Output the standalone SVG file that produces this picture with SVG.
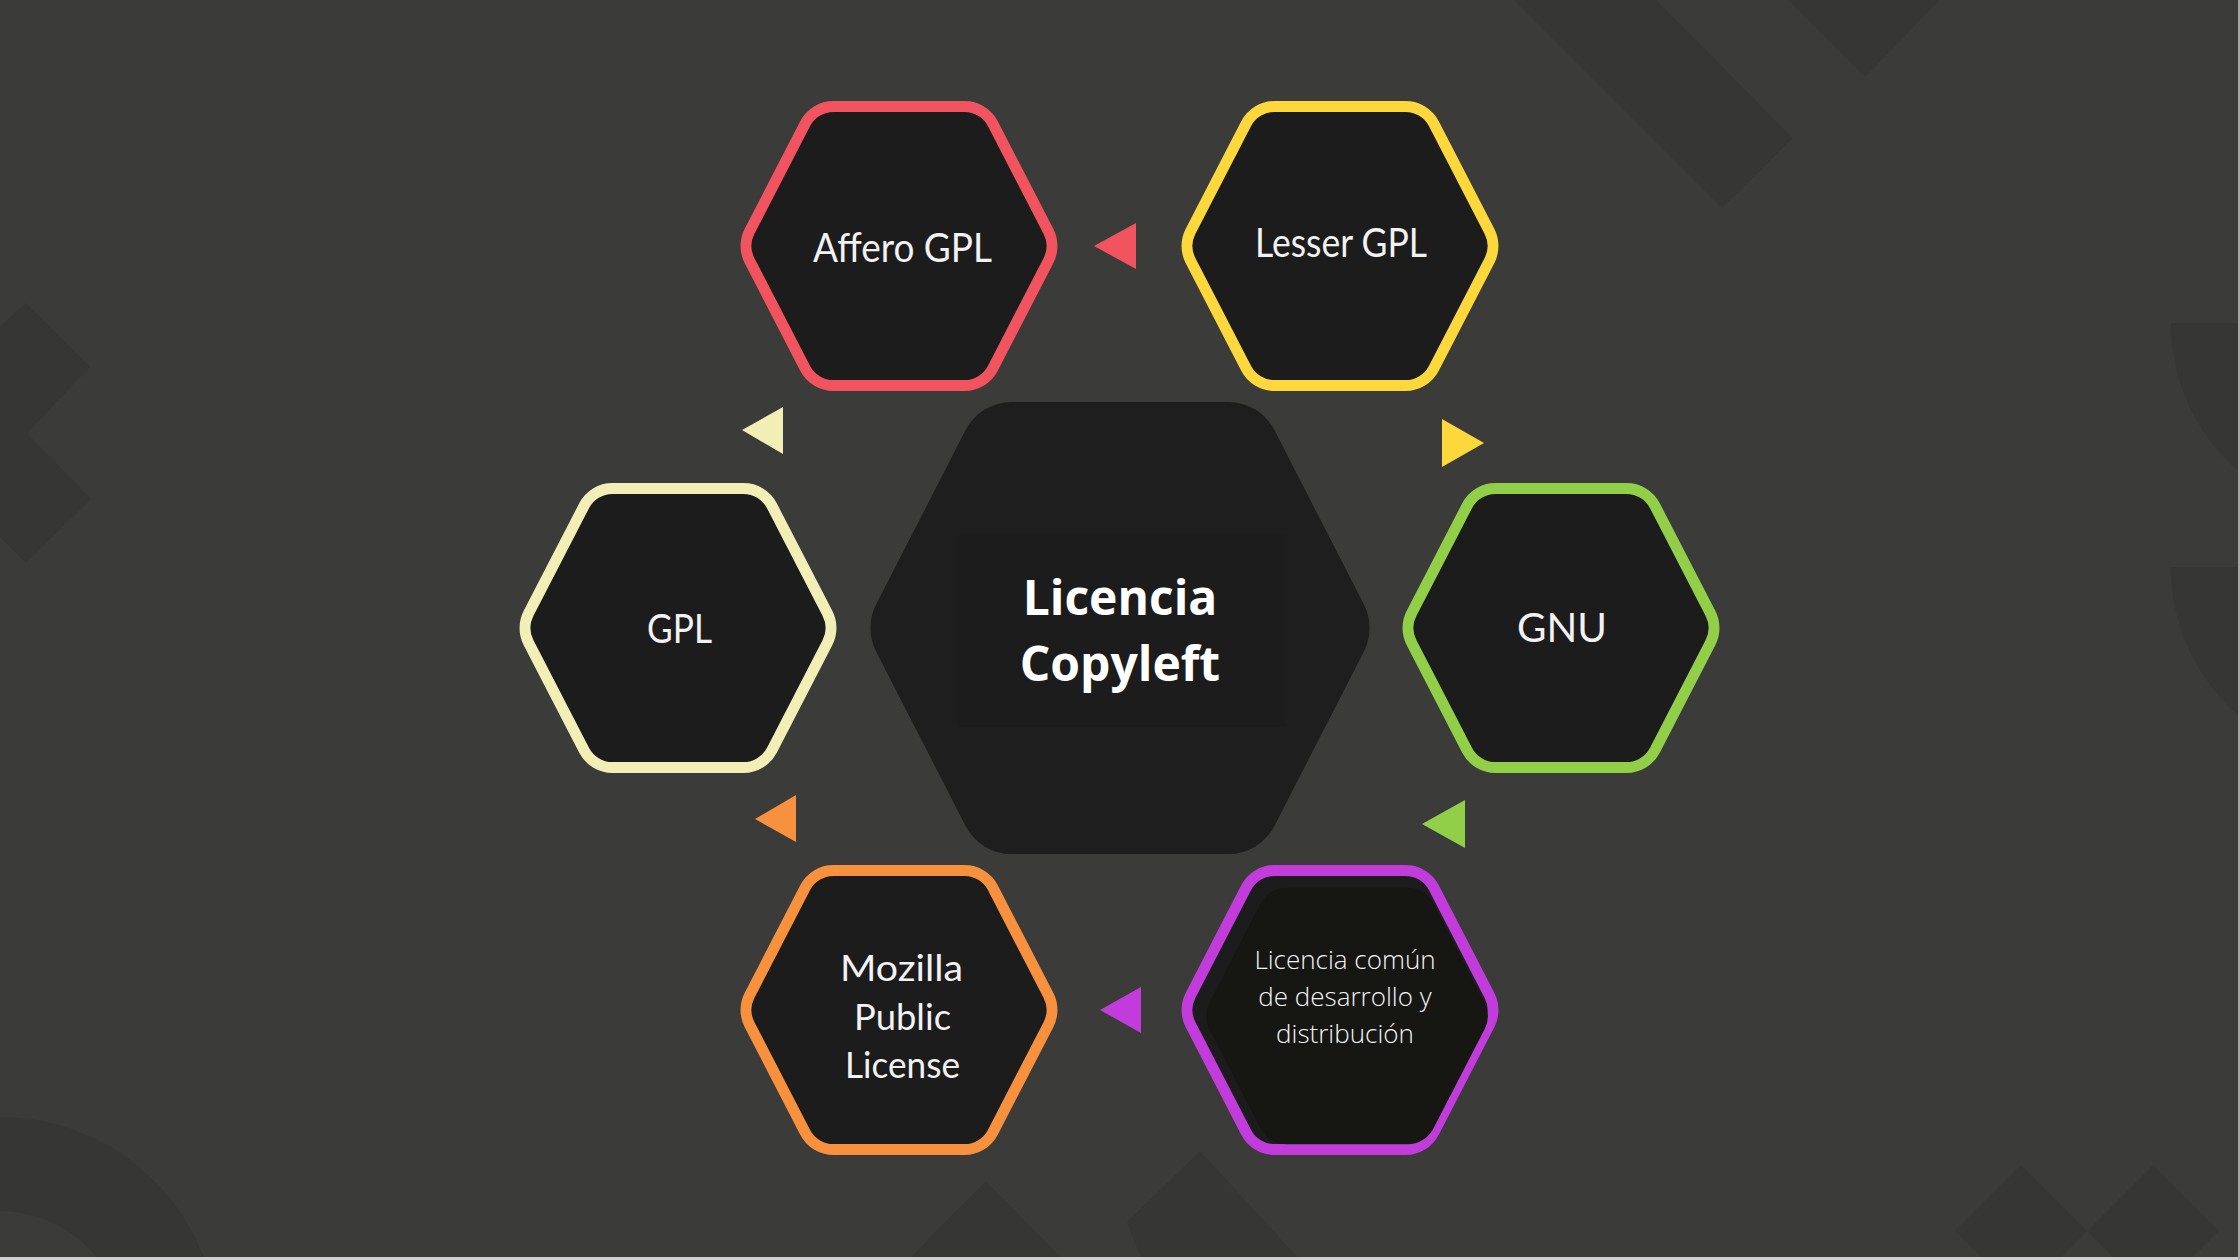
<svg xmlns="http://www.w3.org/2000/svg" xmlns:xlink="http://www.w3.org/1999/xlink" width="2240" height="1260" viewBox="0 0 2240 1260">
  <style>
    .deco { fill: #363635; }
    .node { fill: #1c1c1c; stroke-width: 11; }
    .lbl { font-family: Lato, "Open Sans", "DejaVu Sans", sans-serif; font-size: 40px; fill: #f2f2f2; }
    .lbl-s { font-size: 37px; }
    .body { font-family: "Open Sans", "Noto Sans", sans-serif; font-weight: 300; font-size: 26px; fill: #f4f4f4; text-anchor: middle; }
    .title { font-family: "Open Sans", "Noto Sans", sans-serif; font-weight: 700; font-size: 48px; fill: #ffffff; text-anchor: middle; }
    .red { stroke: #f2545f; } .yellow { stroke: #fcd83c; } .green { stroke: #92cf48; }
    .purple { stroke: #c23cdc; } .orange { stroke: #f7913d; } .cream { stroke: #f2efb6; }
  </style>
  <defs>
    <path id="hex" d="M -149.4,-14.7 L -93.9,-122.2 A 32 32 0 0 1 -65.5,-139.5 L 65.5,-139.5 A 32 32 0 0 1 93.9,-122.2 L 149.4,-14.7 A 32 32 0 0 1 149.4,14.7 L 93.9,122.2 A 32 32 0 0 1 65.5,139.5 L -65.5,139.5 A 32 32 0 0 1 -93.9,122.2 L -149.4,14.7 A 32 32 0 0 1 -149.4,-14.7 Z"/>
    <path id="bighex" d="M -243.7,-23.9 L -154.4,-197.9 A 52 52 0 0 1 -108.4,-226 L 108.4,-226 A 52 52 0 0 1 154.4,-197.9 L 243.7,-23.9 A 52 52 0 0 1 243.7,23.9 L 154.4,197.9 A 52 52 0 0 1 108.4,226 L -108.4,226 A 52 52 0 0 1 -154.4,197.9 L -243.7,23.9 A 52 52 0 0 1 -243.7,-23.9 Z"/>
  </defs>

  <!-- background -->
  <rect x="0" y="0" width="2240" height="1260" fill="#3b3b3a"/>
  <g id="background-decor">
    <polygon class="deco" points="1514,0 1656,0 1793,138 1722,208"/>
    <polygon class="deco" points="1788,0 1940,0 1865,77"/>
    <polygon class="deco" points="0,326 26,303 90,367 27,433 91,499 26,563 0,537"/>
    <path class="deco" d="M 2171,323 L 2240,323 L 2240,473 A 197 197 0 0 1 2171,323 Z"/>
    <path class="deco" d="M 2171,567 L 2240,567 L 2240,717 A 197 197 0 0 1 2171,567 Z"/>
    <circle cx="0" cy="1335" r="171" fill="none" stroke="#363635" stroke-width="94"/>
    <polygon class="deco" points="908,1260 986,1181 1064,1260"/>
    <polygon class="deco" points="1142,1260 1127,1222 1200,1151 1300,1260"/>
    <polygon class="deco" points="1955,1231 2021,1165 2087,1231 2021,1297"/>
    <polygon class="deco" points="2087,1231 2153,1165 2219,1231 2153,1297"/>
    <rect x="0" y="1257" width="2240" height="3" fill="#cfcfcf"/>
    <rect x="2238" y="0" width="2" height="1260" fill="#a8a8a8"/>
  </g>

  <!-- connectors (arrowheads) -->
  <g id="connectors">
    <polygon points="1094,246 1136,223 1136,269" fill="#f2545f"/>
    <polygon points="1484,443 1442,419 1442,467" fill="#fcd83c"/>
    <polygon points="1422,824 1465,800 1465,848" fill="#92cf48"/>
    <polygon points="1100,1010 1141,987 1141,1033" fill="#c23cdc"/>
    <polygon points="755,819 796,795 796,842" fill="#f7913d"/>
    <polygon points="742,430 783,407 783,454" fill="#f2efb6"/>
  </g>

  <g id="node-center">
    <use xlink:href="#bighex" href="#bighex" transform="translate(1120,628)" fill="#1e1e1e"/>
    <rect x="957" y="533" width="328" height="194" fill="#1c1c1c"/>
    <text class="title" x="1120" y="615">Licencia</text>
    <text class="title" x="1120" y="681">Copyleft</text>
  </g>

  <g id="node-affero">
    <use xlink:href="#hex" href="#hex" class="node red" transform="translate(899,246)"/>
    <text class="lbl" x="813" y="262" textLength="179" lengthAdjust="spacingAndGlyphs">Affero GPL</text>
  </g>

  <g id="node-lesser">
    <use xlink:href="#hex" href="#hex" class="node yellow" transform="translate(1340,246)"/>
    <text class="lbl" x="1255" y="257" textLength="172" lengthAdjust="spacingAndGlyphs">Lesser GPL</text>
  </g>

  <g id="node-gnu">
    <use xlink:href="#hex" href="#hex" class="node green" transform="translate(1561,628)"/>
    <text class="lbl" x="1517" y="642" textLength="90" lengthAdjust="spacingAndGlyphs">GNU</text>
  </g>

  <g id="node-cddl">
    <use xlink:href="#hex" href="#hex" class="node purple" transform="translate(1340,1010)"/>
    <use xlink:href="#hex" href="#hex" transform="translate(1347,1016) scale(0.92)" fill="#161613"/>
    <text class="body" x="1345" y="969">Licencia común</text>
    <text class="body" x="1345" y="1006">de desarrollo y</text>
    <text class="body" x="1345" y="1043">distribución</text>
  </g>

  <g id="node-mozilla">
    <use xlink:href="#hex" href="#hex" class="node orange" transform="translate(899,1010)"/>
    <text class="lbl lbl-s" x="840" y="981" textLength="123" lengthAdjust="spacingAndGlyphs">Mozilla</text>
    <text class="lbl lbl-s" x="854" y="1030" textLength="97" lengthAdjust="spacingAndGlyphs">Public</text>
    <text class="lbl lbl-s" x="845" y="1078" textLength="115" lengthAdjust="spacingAndGlyphs">License</text>
  </g>

  <g id="node-gpl">
    <use xlink:href="#hex" href="#hex" class="node cream" transform="translate(678,628)"/>
    <text class="lbl" x="647" y="643" textLength="65" lengthAdjust="spacingAndGlyphs">GPL</text>
  </g>
</svg>
